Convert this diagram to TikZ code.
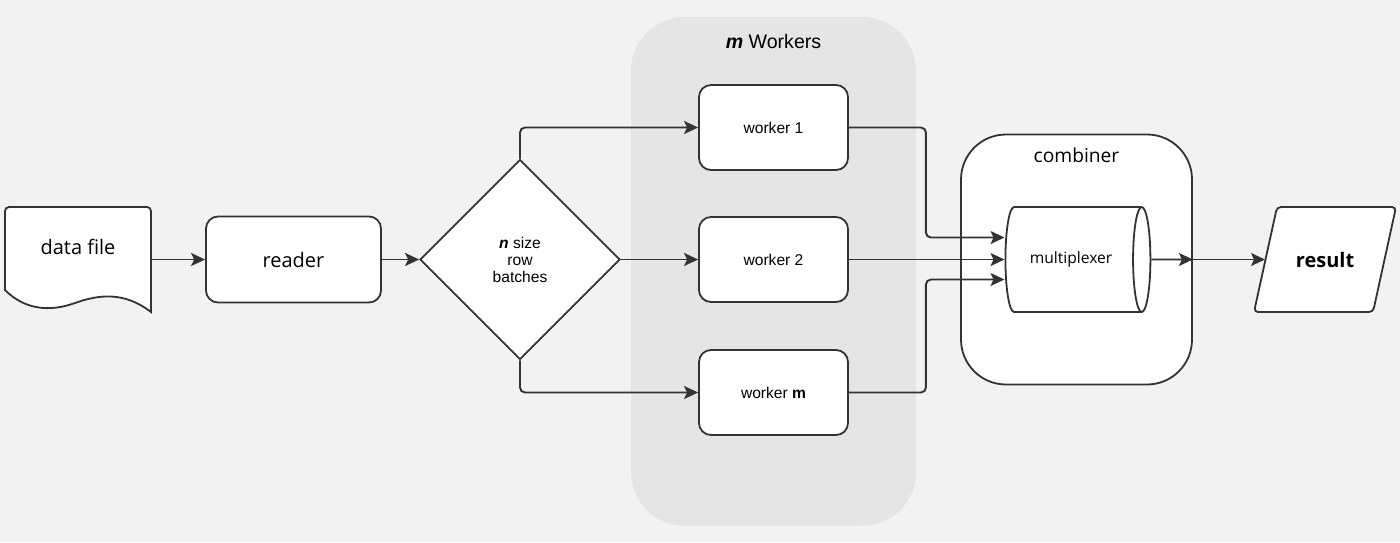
\documentclass[tikz,border=0pt]{standalone}
\usepackage{fontspec}
\setmainfont{Open Sans}
\newfontfamily\arialfont{Liberation Sans}
\usetikzlibrary{shapes.geometric,arrows.meta}

\definecolor{pagegray}{HTML}{F2F2F2}
\definecolor{groupgray}{HTML}{E5E5E5}
\definecolor{inkgray}{HTML}{333333}

\tikzset{
  boxline/.style={draw=inkgray, line width=0.9pt, fill=white},
  procbox/.style={boxline, rectangle, rounded corners=6pt, minimum width=87.5pt, minimum height=43pt, font=\fontsize{10}{12}\selectfont},
  workerbox/.style={boxline, rectangle, rounded corners=6pt, minimum width=74.5pt, minimum height=42.5pt, font=\arialfont\fontsize{7.8}{9}\selectfont},
  flow/.style={draw=inkgray, line width=0.95pt, -{Stealth[length=7pt,width=6.5pt,inset=1.5pt]}, rounded corners=2.5pt},
}

\begin{document}
\begin{tikzpicture}[x=0.5pt,y=-0.5pt]
    \fill[pagegray] (0,0) rectangle (1400,542);
    \useasboundingbox (0,0) rectangle (1400,542);

    % group of workers
    \node[fill=groupgray, rounded corners=27pt, minimum width=142.5pt, minimum height=254.5pt,
        label={[anchor=center, yshift=-12.5pt, font=\arialfont\fontsize{9.8}{12}\selectfont]north:{\textbf{\textit{m}} Workers}}]
        (workers) at (773.5,271.5) {};

    % data file (document shape)
    \draw[boxline, rounded corners=2pt] (5,290) -- (5,207) -- (151,207) [sharp corners] -- (151,312)
        .. controls (125,292) and (100,294) .. (75,303)
        .. controls (50,312) and (25,310) .. (5,290) -- cycle;
    \node[minimum width=73pt, minimum height=52.5pt,
        label={[yshift=6.25pt, font=\fontsize{10}{12}\selectfont]center:data file}] (datafile) at (78,259.5) {};

    \node[procbox] (reader) at (293.5,259.5) {reader};
    \node[boxline, diamond, aspect=1, inner sep=0pt, minimum width=100pt, minimum height=100pt,
        align=center, font=\arialfont\fontsize{7.8}{8.5}\selectfont] (batcher) at (520,259.5)
        {\textbf{\textit{n}} size\\row\\batches};

    \node[workerbox] (w1) at (773.5,127.5) {worker 1};
    \node[workerbox] (w2) at (773.5,259.5) {worker 2};
    \node[workerbox] (wm) at (773.5,392.5) {worker \textbf{m}};

    % combiner with multiplexer
    \node[boxline, rounded corners=22.5pt, minimum width=115.5pt, minimum height=125pt,
        label={[anchor=center, yshift=-11pt, font=\fontsize{9.6}{12}\selectfont]north:combiner}]
        (combiner) at (1076.5,259.5) {};
    \node[boxline, cylinder, aspect=0.6, minimum width=52.5pt, minimum height=72.5pt,
        font=\fontsize{7.8}{9}\selectfont] (mux) at (1071,259.5) {multiplexer};

    % result (parallelogram)
    \draw[boxline, rounded corners=2pt] (1254,312) -- (1277,207) -- (1396,207) -- (1373,312) -- cycle;
    \node[font=\bfseries\fontsize{10}{12}\selectfont] (result) at (1325,259.5) {result};
    \coordinate (resultin) at (1265,259.5);

    % connectors
    \draw[flow] (datafile.east) -- (reader.west);
    \draw[flow] (reader.east) -- (batcher.west);
    \draw[flow] (batcher.north) |- (w1.west);
    \draw[flow] (batcher.east) -- (w2.west);
    \draw[flow] (batcher.south) |- (wm.west);
    \draw[flow] (w1.east) -- ++(77,0) |- ([yshift=11pt]mux.west);
    \draw[flow] (w2.east) -- (mux.west);
    \draw[flow] (wm.east) -- ++(77,0) |- ([yshift=-10pt]mux.west);
    \draw[flow] (mux.east) -- (combiner.east);
    \draw[flow] (combiner.east) -- (resultin);
\end{tikzpicture}
\end{document}
